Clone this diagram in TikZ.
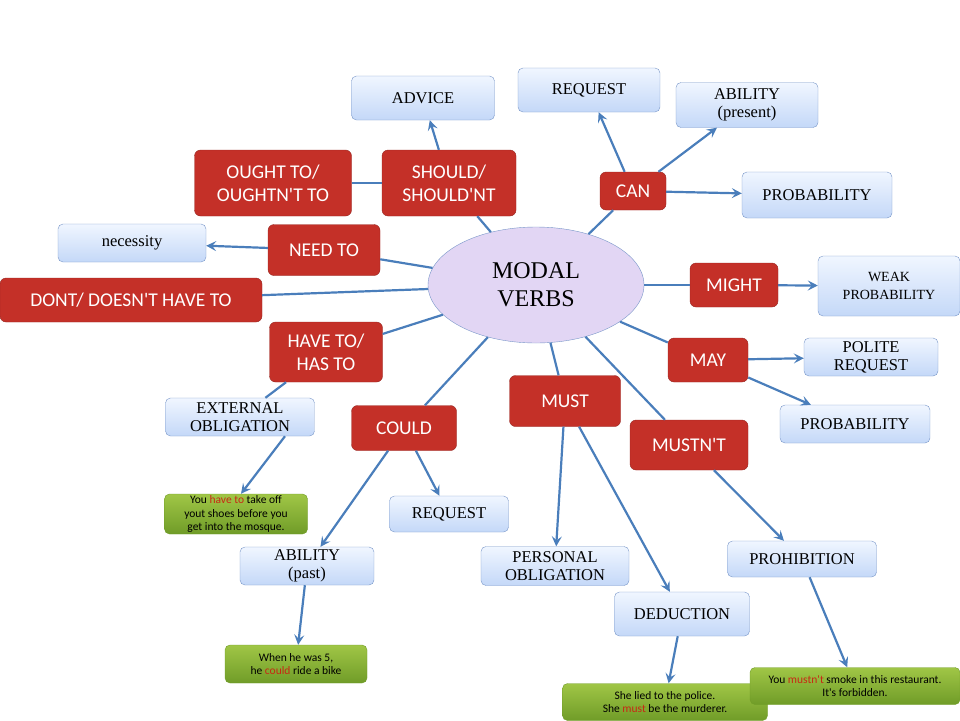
\documentclass[tikz,border=0pt]{standalone}
\usepackage{fontspec}
\setmainfont{Liberation Serif}
\newfontfamily\carl{Carlito}
\usetikzlibrary{arrows.meta,shapes.geometric}
\definecolor{redbox}{RGB}{196,48,40}
\definecolor{redline}{RGB}{150,40,35}
\definecolor{bluetop}{RGB}{240,246,255}
\definecolor{bluebot}{RGB}{196,216,248}
\definecolor{blueline}{RGB}{120,150,200}
\definecolor{greentop}{RGB}{160,198,70}
\definecolor{greenbot}{RGB}{112,156,40}
\definecolor{conn}{RGB}{74,126,187}
\definecolor{word}{RGB}{200,40,20}
\definecolor{ell}{RGB}{226,214,244}
\begin{document}
\begin{tikzpicture}[x=1pt,y=-1pt,
  red/.style={draw=redline, fill=redbox, rounded corners=6pt, text=white, align=center,
    font=\carl\fontsize{19.5}{23}\selectfont, inner sep=0pt},
  blue/.style={draw=blueline, top color=bluetop, bottom color=bluebot, rounded corners=5pt,
    align=center, font=\fontsize{16.5}{18}\selectfont, inner sep=0pt},
  green/.style={draw=greenbot, top color=greentop, bottom color=greenbot, rounded corners=5pt,
    align=center, font=\carl\fontsize{11.5}{13.5}\selectfont, inner sep=0pt},
  ln/.style={draw=conn, line width=2.2pt},
  ar/.style={ln, -{Stealth[length=10pt,width=10pt,inset=4pt]}}]
\useasboundingbox (0,0) rectangle (960,720);
% centre
\node[ellipse, draw=blueline, fill=ell, minimum width=216pt, minimum height=116pt, align=center,
  font=\fontsize{24}{28}\selectfont] (mv) at (536,285) {MODAL\\VERBS};
% red boxes
\node[red, minimum width=134pt, minimum height=66pt] (should) at (449,183) {SHOULD/\\SHOULD'NT};
\node[red, minimum width=157pt, minimum height=66pt] (ought) at (273,183) {OUGHT TO/\\OUGHTN'T TO};
\node[red, minimum width=112pt, minimum height=51pt] (need) at (324,250) {NEED TO};
\node[red, minimum width=262pt, minimum height=44pt] (dont) at (131,300) {DONT/ DOESN'T HAVE TO};
\node[red, minimum width=113pt, minimum height=60pt] (have) at (326,352) {HAVE TO/\\HAS TO};
\node[red, minimum width=105pt, minimum height=45pt] (could) at (404,428) {COULD};
\node[red, minimum width=111pt, minimum height=51pt] (must) at (565,401) {MUST};
\node[red, minimum width=118pt, minimum height=50pt] (mustnt) at (689,445) {MUSTN'T};
\node[red, minimum width=80pt, minimum height=44pt] (may) at (708,360) {MAY};
\node[red, minimum width=88pt, minimum height=44pt] (might) at (734,285) {MIGHT};
\node[red, minimum width=66pt, minimum height=38pt] (can) at (633,191) {CAN};
% blue boxes
\node[blue, minimum width=143pt, minimum height=44pt] (advice) at (423,98) {ADVICE};
\node[blue, minimum width=142pt, minimum height=44pt] (req1) at (589,90) {REQUEST};
\node[blue, minimum width=142pt, minimum height=45pt] (abpres) at (747,105) {ABILITY\\(present)};
\node[blue, minimum width=150pt, minimum height=46pt] (prob1) at (817,195) {PROBABILITY};
\node[blue, minimum width=148pt, minimum height=38pt] (necess) at (132,243) {necessity};
\node[blue, minimum width=142pt, minimum height=60pt, font=\fontsize{14}{18}\selectfont] (weak) at (889,286) {WEAK\\PROBABILITY};
\node[blue, minimum width=134pt, minimum height=38pt] (polite) at (871,357) {POLITE\\REQUEST};
\node[blue, minimum width=150pt, minimum height=38pt] (prob2) at (855,424) {PROBABILITY};
\node[blue, minimum width=149pt, minimum height=38pt] (ext) at (240,417) {EXTERNAL\\OBLIGATION};
\node[blue, minimum width=119pt, minimum height=36pt] (req2) at (449,514) {REQUEST};
\node[blue, minimum width=134pt, minimum height=38pt] (abpast) at (307,566) {ABILITY\\(past)};
\node[blue, minimum width=148pt, minimum height=39pt] (pers) at (555,566) {PERSONAL\\OBLIGATION};
\node[blue, minimum width=135pt, minimum height=44pt] (ded) at (682,614) {DEDUCTION};
\node[blue, minimum width=149pt, minimum height=36pt] (proh) at (802,559) {PROHIBITION};
% green boxes
\node[green, minimum width=143pt, minimum height=40pt] (g1) at (236,514) {You \textcolor{word}{have to} take off\\yout shoes before you\\get into the mosque.};
\node[green, minimum width=142pt, minimum height=38pt] (g2) at (296,664) {When he was 5,\\he \textcolor{word}{could} ride a bike};
\node[green, minimum width=205pt, minimum height=37pt] (g3) at (665,702) {She lied to the police.\\She \textcolor{word}{must} be the murderer.};
\node[green, minimum width=210pt, minimum height=37pt] (g4) at (855,686) {You \textcolor{word}{mustn't} smoke in this restaurant.\\It's forbidden.};
% connectors
\draw[ln] (mv) -- (should);
\draw[ar] (should) -- (advice);
\draw[ln] (ought) -- (should);
\draw[ln] (mv) -- (need);
\draw[ar] (need) -- (necess);
\draw[ln] (mv) -- (dont);
\draw[ln] (mv) -- (have);
\draw[ln] (have) -- (ext);
\draw[ar] ([xshift=45pt]ext.south) -- ([xshift=5pt]g1.north);
\draw[ln] (mv) -- (could);
\draw[ar] (could) -- (req2);
\draw[ar] (could) -- (abpast);
\draw[ar] (abpast) -- (g2);
\draw[ln] (mv) -- (must);
\draw[ar] (must) -- (pers);
\draw[ar] (must) -- (ded);
\draw[ar] (ded) -- (g3);
\draw[ln] (mv) -- (mustnt);
\draw[ar] (mustnt) -- (proh);
\draw[ar] (proh) -- (g4);
\draw[ln] (mv) -- (may);
\draw[ar] (may) -- (polite);
\draw[ar] (may) -- (prob2);
\draw[ln] (mv) -- (might);
\draw[ar] (might) -- (weak);
\draw[ln] (mv) -- (can);
\draw[ar] (can) -- (req1);
\draw[ar] (can) -- (abpres);
\draw[ar] (can) -- (prob1);
\end{tikzpicture}
\end{document}
